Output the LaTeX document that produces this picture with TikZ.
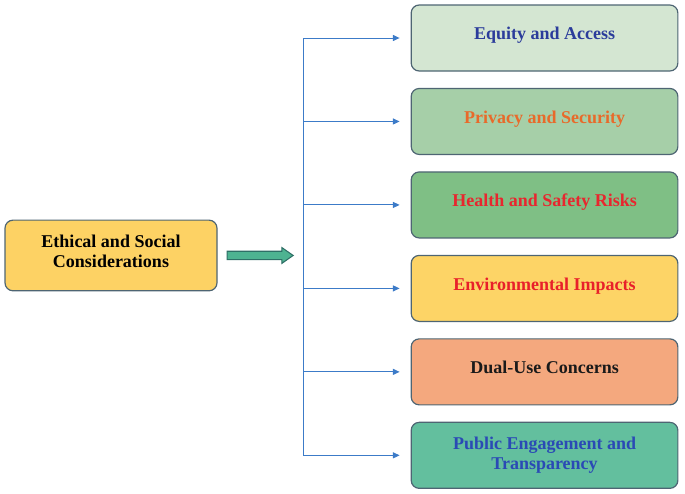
\documentclass[tikz,border=0pt]{standalone}
\usepackage{fontspec}
\setmainfont{Liberation Serif}
\usepackage{xcolor}
\usepackage{tikz}
\usetikzlibrary{arrows.meta, positioning, shapes.arrows}
\definecolor{boxline}{HTML}{4E6573}
\definecolor{linkblue}{HTML}{3C7BC8}
\definecolor{mainfill}{HTML}{FDD264}
\definecolor{eqfill}{HTML}{D4E6D2}
\definecolor{privfill}{HTML}{A6CFA8}
\definecolor{healthfill}{HTML}{7FBF85}
\definecolor{envfill}{HTML}{FDD466}
\definecolor{dualfill}{HTML}{F4A87E}
\definecolor{pubfill}{HTML}{63BF9E}
\definecolor{tealarrow}{HTML}{4DB391}
\definecolor{tealline}{HTML}{2E6F66}

\begin{document}
\begin{tikzpicture}[
  >={Triangle[length=5pt,width=4.5pt]},
  node distance=12.2pt,
  every node/.style={draw=boxline, line width=0.9pt, rounded corners=6pt, align=center, inner sep=2pt, font=\fontsize{13.5}{15}\selectfont\bfseries},
  topic/.style={minimum width=200pt, minimum height=49.5pt},
  oneline/.style={topic, text height=9.5pt, text depth=7pt}
]
\useasboundingbox (0,0) rectangle (513.75pt,-369.75pt);

\node (m) [minimum width=159pt, minimum height=53pt, fill=mainfill] at (83.25pt,-191.6pt) {Ethical and Social\\Considerations\\[-9pt]};
\node (arr) [right=6.75pt of m, single arrow, sharp corners, draw=tealline, line width=0.8pt, fill=tealarrow, inner sep=0pt,
  text height=5.5pt, text depth=0pt, minimum height=49.5pt, single arrow head extend=2.8pt, single arrow tip angle=70] {};

\node (e) [oneline, fill=eqfill] at (408.4pt,-28.5pt) {\color[HTML]{2B3C9B}Equity and Access};
\node (p) [oneline, fill=privfill, below=of e] {\color[HTML]{E86A2A}Privacy and Security};
\node (h) [oneline, fill=healthfill, below=of p] {\color[HTML]{E8262E}Health and Safety Risks};
\node (env) [oneline, fill=envfill, below=of h] {\color[HTML]{E8202A}Environmental Impacts};
\node (d) [oneline, fill=dualfill, below=of env] {\color[HTML]{1A1A1A}Dual-Use Concerns};
\node (pub) [topic, fill=pubfill, below=of d] {\color[HTML]{2A4AB5}Public Engagement and\\\color[HTML]{2A4AB5}Transparency};

% spine
\coordinate (s) at (227.25pt,0);
\draw[linkblue, line width=0.75pt] (s |- e.west) -- (s |- pub.west);
\foreach \t in {e, p, h, env, d, pub}
  \draw[->, linkblue, line width=0.75pt, shorten >=8.25pt] (s |- \t.west) -- (\t.west);
\end{tikzpicture}
\end{document}
